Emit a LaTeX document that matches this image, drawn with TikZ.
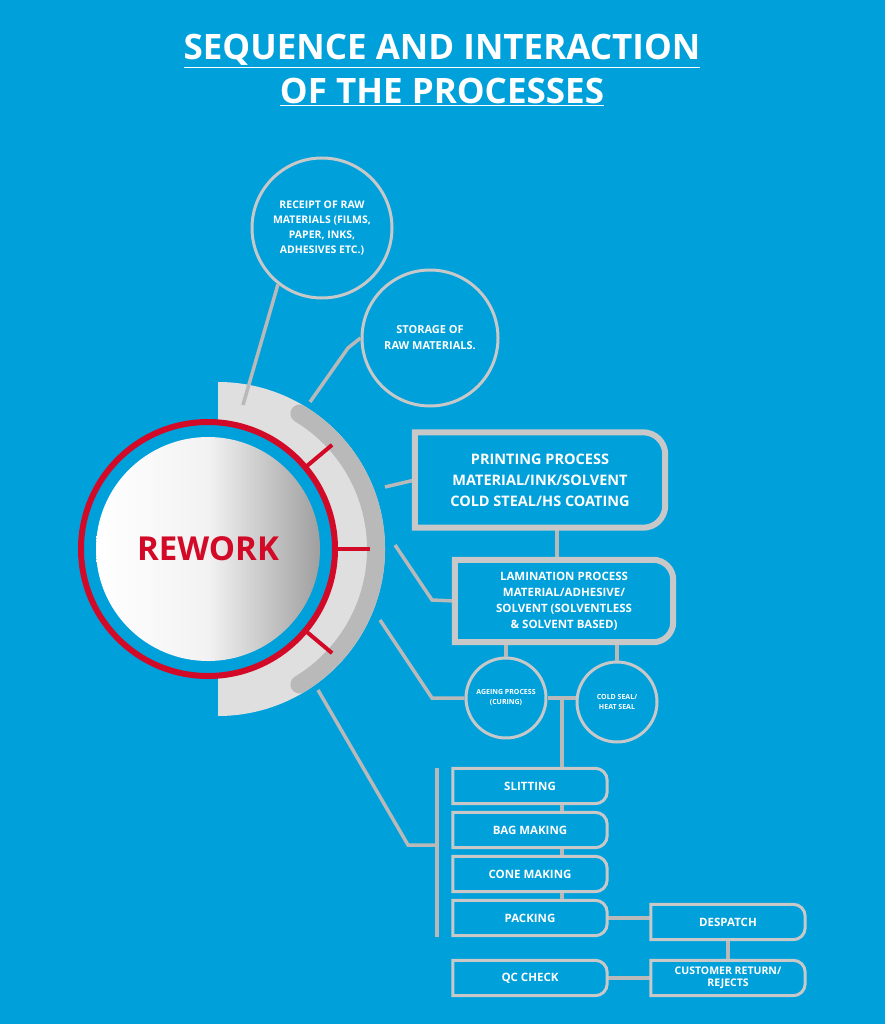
\documentclass[tikz,border=0pt]{standalone}
\usepackage{fontspec}
\setmainfont{Open Sans}
\usetikzlibrary{positioning}
\definecolor{bgblue}{RGB}{0,160,218}
\definecolor{silver}{RGB}{200,200,200}
\definecolor{linegray}{RGB}{185,185,185}
\definecolor{ringred}{RGB}{210,10,40}
\begin{document}
\begin{tikzpicture}[
        x=1pt, y=-1pt,
        every node/.style={text=white, font=\bfseries, align=center, inner sep=0pt},
        bubble/.style={draw=silver, line width=3pt, circle},
        tab/.style={draw=none, minimum height=35pt, minimum width=154pt, font=\bfseries\fontsize{11.5}{13}\selectfont},
        link/.style={draw=linegray, line width=3.5pt},
        outline/.style={draw=silver, line width=3pt},
    ]
    \fill[bgblue] (0,0) rectangle (885,1024);
    \useasboundingbox (0,0) rectangle (885,1024);
    % title
    \node[font=\bfseries\fontsize{35}{44}\selectfont] (title) at (442,70)
        {\underline{SEQUENCE AND INTERACTION}\\\underline{OF THE PROCESSES}};
    % half ring behind the core
    \coordinate (hub) at (218,549);
    \fill[gray!25] (218,382) arc[start angle=-90, end angle=90, radius=167] -- cycle;
    \draw[gray!55, line width=18pt, line cap=round]
        ([shift={(-59:158)}]hub) arc[start angle=-59, end angle=59, radius=158];
    % red spokes
    \coordinate (core) at (208,549);
    \foreach \a in {-40,0,40}
        \draw[ringred, line width=4pt] ([shift={(\a:128)}]core) -- ([shift={(\a:162)}]core);
    % core disc
    \fill[bgblue] (core) circle[radius=125];
    \draw[ringred, line width=6pt] (core) circle[radius=127];
    \shade[left color=white, right color=gray!75, middle color=gray!10] (core) circle[radius=112];
    \node[text=ringred, font=\bfseries\fontsize{33}{40}\selectfont] (rework) at (core) {REWORK};
    % bubbles
    \node[bubble, minimum size=140pt, font=\bfseries\fontsize{10.5}{15}\selectfont] (receipt) at (322,228)
        {RECEIPT OF RAW\\MATERIALS (FILMS,\\PAPER, INKS,\\ADHESIVES ETC.)};
    \node[bubble, minimum size=136pt, font=\bfseries\fontsize{11}{16}\selectfont] (storage) at (430,338)
        {STORAGE OF\\RAW MATERIALS.};
    \node[bubble, minimum size=80pt, font=\bfseries\fontsize{7}{10}\selectfont] (ageing) at (506,698)
        {AGEING PROCESS\\(CURING)};
    \node[bubble, minimum size=80pt, font=\bfseries\fontsize{7}{10}\selectfont] (coldseal) at (617,702)
        {COLD SEAL/\\HEAT SEAL};
    % process boxes
    \node[tab, minimum width=250pt, minimum height=95pt, font=\bfseries\fontsize{14.5}{21}\selectfont] (print) at (540,480)
        {PRINTING PROCESS\\MATERIAL/INK/SOLVENT\\COLD STEAL/HS COATING};
    \node[tab, minimum width=218pt, minimum height=82pt, font=\bfseries\fontsize{11.5}{16}\selectfont] (lam) at (564,601)
        {LAMINATION PROCESS\\MATERIAL/ADHESIVE/\\SOLVENT (SOLVENTLESS\\\& SOLVENT BASED)};
    \node[tab] (slit) at (530,786) {SLITTING};
    \node[tab] (bag) at (530,830) {BAG MAKING};
    \node[tab] (cone) at (530,874) {CONE MAKING};
    \node[tab] (pack) at (530,918) {PACKING};
    \node[tab] (desp) at (728,922) {DESPATCH};
    \node[tab, font=\bfseries\fontsize{10.5}{12}\selectfont] (cust) at (728,978) {CUSTOMER RETURN/\\REJECTS};
    \node[tab] (qc) at (530,978) {QC CHECK};
    % connectors
    \coordinate (bar top) at (437,768);
    \coordinate (bar bot) at (437,937);
    \draw[link] (243,405) -- (receipt.232);
    \draw[link] (310,402) -- (348,348) -- (storage.west);
    \draw[link] (385,487) -- (print.west);
    \draw[link] (395,545) -- (432,600) -- (lam.west);
    \draw[link] (380,620) -- (432,698) -- (ageing.west);
    \draw[link] (318,690) -- (408,845) -- (437,845);
    \draw[link] (bar top) -- (bar bot);
    \draw[link] (print.south -| 557,0) -- (lam.north -| 557,0);
    \draw[link] (lam.south -| ageing.north) -- (ageing.north);
    \draw[link] (lam.south -| coldseal.north) -- (coldseal.north);
    \draw[link] (ageing.east) -- (coldseal.west |- ageing.east);
    \draw[link] (562,698) -- (slit.north -| 562,0);
    \foreach \a/\b in {slit/bag, bag/cone, cone/pack}
        \draw[link] (\a.south -| 562,0) -- (\b.north -| 562,0);
    \draw[link] (pack.east) -- (desp.west |- pack.east);
    \draw[link] (desp.south) -- (cust.north);
    \draw[link] (qc.east) -- (cust.west);
    % box outlines, rounded on the right
    \foreach \n/\r/\w in {print/22/6, lam/20/6, slit/12/3, bag/12/3, cone/12/3, pack/12/3, desp/12/3, cust/12/3, qc/12/3}
        \draw[outline, line width=\w pt] (\n.south west) -- (\n.north west) -- ([xshift=-\r pt]\n.north east)
            arc[start angle=-90, end angle=0, radius=\r] -- ([yshift=\r pt]\n.south east)
            arc[start angle=0, end angle=90, radius=\r] -- cycle;
\end{tikzpicture}
\end{document}
